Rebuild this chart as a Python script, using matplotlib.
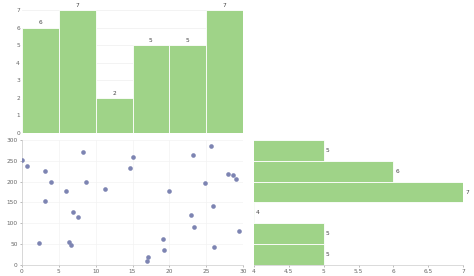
import matplotlib
matplotlib.use("Agg")
import matplotlib.pyplot as plt
import numpy as np

x_vals = [0.0, 0.7, 2.3, 3.1, 3.1, 3.9, 6.0, 6.4, 6.6, 6.9, 7.6, 8.3, 8.7, 11.2, 14.7, 15.0,
          16.9, 17.1, 19.2, 19.3, 20.0, 22.9, 23.2, 23.3, 24.9, 25.6, 25.9, 26.0, 27.9, 28.6, 29.0, 29.4]
y_vals = [253, 237, 53, 226, 154, 199, 177, 54, 49, 128, 114, 272, 199, 183, 233, 258,
          10, 18, 62, 36, 178, 119, 263, 91, 196, 286, 142, 43, 219, 216, 206, 82]

x_bins = [0, 5, 10, 15, 20, 25, 30]
y_bins = [0, 50, 100, 150, 200, 250, 300]

x_counts, _ = np.histogram(x_vals, bins=x_bins)
y_counts, _ = np.histogram(y_vals, bins=y_bins)

green = '#9fd388'
dot = '#7d84b2'
grid = '#eeeeee'
tickc = '#888888'
fs = 4.2

fig = plt.figure(figsize=(4.74, 2.76), dpi=100)
ax_top = fig.add_axes([0.0464, 0.518, 0.4663, 0.446])
ax_sc = fig.add_axes([0.0464, 0.040, 0.4663, 0.453])
ax_r = fig.add_axes([0.5359, 0.040, 0.441, 0.453])

def style(ax):
    for s in ax.spines.values():
        s.set_visible(False)
    ax.tick_params(labelsize=fs, colors='#666666', length=1.5, width=0.4, pad=1.5, color=tickc)

# top histogram
style(ax_top)
ax_top.bar(x_bins[:-1], x_counts, width=5, align='edge', color=green, edgecolor='white', linewidth=0.6, zorder=2)
for xb, c in zip(x_bins[:-1], x_counts):
    ax_top.text(xb + 2.5, c + 0.12, str(c), ha='center', va='bottom', fontsize=fs, color='#444444')
ax_top.set_xlim(0, 30)
ax_top.set_ylim(0, 7)
ax_top.set_yticks(range(0, 8))
ax_top.set_xticks([])
ax_top.tick_params(axis='y', length=0)
ax_top.grid(axis='y', color=grid, linewidth=0.5, zorder=0)

# scatter
style(ax_sc)
ax_sc.scatter(x_vals, y_vals, s=11, color=dot, zorder=3, linewidths=0)
ax_sc.set_xlim(0, 30)
ax_sc.set_ylim(0, 300)
ax_sc.set_xticks([0, 5, 10, 15, 20, 25, 30])
ax_sc.set_yticks([0, 50, 100, 150, 200, 250, 300])
ax_sc.spines['left'].set_visible(True)
ax_sc.spines['bottom'].set_visible(True)
ax_sc.spines['left'].set_color('#cccccc')
ax_sc.spines['bottom'].set_color('#cccccc')
ax_sc.spines['left'].set_linewidth(0.5)
ax_sc.spines['bottom'].set_linewidth(0.5)
ax_sc.grid(color='#f3f3f3', linewidth=0.5, zorder=0)

# right histogram
style(ax_r)
ax_r.barh(y_bins[:-1], y_counts, height=50, left=0, align='edge', color=green, edgecolor='white', linewidth=0.6, zorder=2)
for yb, c in zip(y_bins[:-1], y_counts):
    ax_r.text(max(c, 4) + 0.03, yb + 25, str(c), ha='left', va='center', fontsize=fs, color='#444444')
ax_r.set_xlim(4, 7)
ax_r.set_ylim(0, 300)
ax_r.set_xticks([4, 4.5, 5, 5.5, 6, 6.5, 7])
ax_r.set_xticklabels(['4', '4.5', '5', '5.5', '6', '6.5', '7'])
ax_r.set_yticks([])
ax_r.spines['bottom'].set_visible(True)
ax_r.spines['bottom'].set_color('#cccccc')
ax_r.spines['bottom'].set_linewidth(0.5)

fig.savefig('out.png', dpi=100)
